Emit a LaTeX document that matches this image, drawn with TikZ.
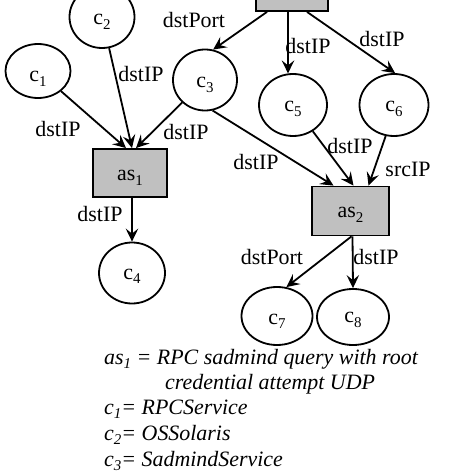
\documentclass[tikz,border=0pt]{standalone}
\usepackage{fontspec}
\setmainfont{Liberation Serif}
\usetikzlibrary{shapes.geometric,arrows.meta}
\newcommand\sbs[1]{\raisebox{-0.22em}{\fontsize{15}{15}\selectfont #1}}
\newcommand\lowered[2]{\raisebox{-#1bp}[0pt][0pt]{#2}}
\tikzset{
  cnode/.style={ellipse,draw,line width=1.8bp,inner sep=0pt,font=\fontsize{22}{24}\selectfont},
  asbox/.style={rectangle,draw,line width=1.8bp,fill={rgb,255:red,192;green,192;blue,192},inner sep=0pt,font=\fontsize{22}{24}\selectfont},
  arr/.style={line width=1.8bp,-{Stealth[length=13bp,width=12.5bp,inset=5bp]}},
  elab/.style={font=\fontsize{22}{24}\selectfont,inner sep=0pt,anchor=base},
  legend/.style={font=\fontsize{22}{24}\selectfont\itshape,inner sep=0pt,anchor=base west}
}
\begin{document}
\begin{tikzpicture}[x=1bp,y=-1bp]
\useasboundingbox (0,0) rectangle (474,474);
% nodes
\node[asbox,minimum width=72bp,minimum height=50bp] (as0) at (292,-14) {};
\node[cnode,minimum width=65bp,minimum height=62bp] (c2) at (102,17) {\lowered{8}{c\sbs{2}}};
\node[cnode,minimum width=65bp,minimum height=54bp] (c1) at (38,71) {\lowered{11}{c\sbs{1}}};
\node[cnode,minimum width=64bp,minimum height=61bp] (c3) at (205,80) {\lowered{8}{c\sbs{3}}};
\node[asbox,minimum width=74bp,minimum height=48bp] (as1) at (130,173) {\lowered{7.5}{as\sbs{1}}};
\node[cnode,minimum width=66bp,minimum height=61bp] (c4) at (132,273) {\lowered{6}{c\sbs{4}}};
\node[cnode,minimum width=68bp,minimum height=62bp] (c5) at (293,105) {\lowered{7}{c\sbs{5}}};
\node[cnode,minimum width=69bp,minimum height=62bp] (c6) at (394,105) {\lowered{7}{c\sbs{6}}};
\node[asbox,minimum width=77bp,minimum height=49bp] (as2) at (350.5,211) {\lowered{6.5}{as\sbs{2}}};
\node[cnode,minimum width=71bp,minimum height=58bp] (c7) at (277,316) {\lowered{8}{c\sbs{7}}};
\node[cnode,minimum width=72bp,minimum height=56bp] (c8) at (353,317) {\lowered{5.5}{c\sbs{8}}};
% connectors
\draw[arr] ([xshift=-25bp]as0.south) -- (c3.75);
\draw[arr] ([xshift=-4bp]as0.south) -- (c5.99);
\draw[arr] ([xshift=15bp]as0.south) -- (c6.88);
\draw[arr] (c1) -- ([xshift=-4bp]as1.north);
\draw[arr] (c2) -- ([xshift=2bp]as1.north);
\draw[arr] (c3) -- ([xshift=6bp]as1.north);
\draw[arr] (c3.-76) -- ([xshift=-17bp]as2.north);
\draw[arr] (c5.-53) -- ([xshift=3bp]as2.north);
\draw[arr] (c6.-105) -- ([xshift=18bp]as2.north);
\draw[arr] ([xshift=2bp]as1.south) -- (c4.north);
\draw[arr] ([xshift=1bp]as2.south) -- (c7.72);
\draw[arr] ([xshift=2bp]as2.south) -- (c8.north);
% edge labels
\node[elab] (l1) at (194,28) {dstPort};
\node[elab] (l2) at (141,82) {dstIP};
\node[elab] (l3) at (58,137) {dstIP};
\node[elab] (l4) at (186,140) {dstIP};
\node[elab] (l5) at (100,222) {dstIP};
\node[elab] (l6) at (308,54) {dstIP};
\node[elab] (l7) at (382,47) {dstIP};
\node[elab] (l8) at (256,170) {dstIP};
\node[elab] (l9) at (350,154) {dstIP};
\node[elab] (l10) at (408,177) {srcIP};
\node[elab] (l11) at (272,264) {dstPort};
\node[elab] (l12) at (376,264) {dstIP};
% legend
\node[legend] (t1) at (104,364) {as\sbs{1} = RPC sadmind query with root};
\node[legend] (t2) at (165,389) {credential attempt UDP};
\node[legend] (t3) at (104,414) {c\sbs{1}= RPCService};
\node[legend] (t4) at (104,440) {c\sbs{2}= OSSolaris};
\node[legend] (t5) at (104,466) {c\sbs{3}= SadmindService};
\end{tikzpicture}
\end{document}
